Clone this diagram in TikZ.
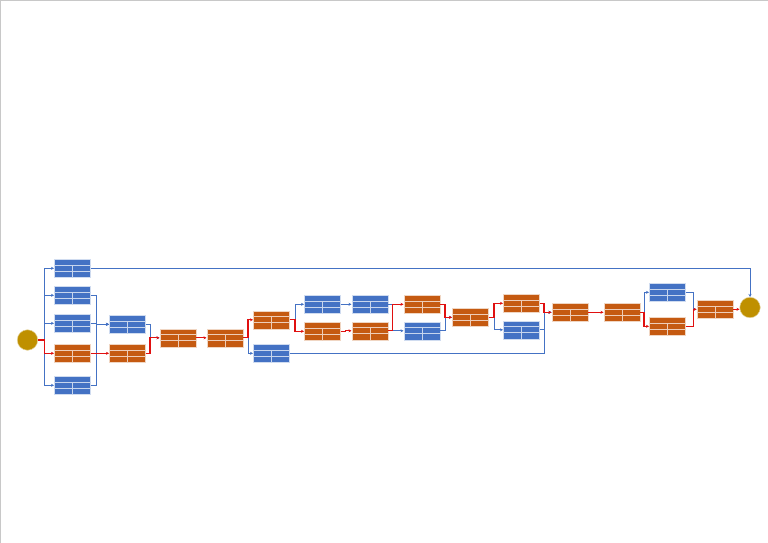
\documentclass[tikz,border=0pt]{standalone}
\usetikzlibrary{arrows.meta,calc}
\definecolor{bxblue}{HTML}{4472C4}
\definecolor{bxorange}{HTML}{C55A11}
\definecolor{gold}{HTML}{BF9000}
\definecolor{lnred}{HTML}{E01010}
\definecolor{frame}{HTML}{C8C8C8}
\tikzset{
  tbox/.style={draw=white!75!#1, fill=#1, line width=0.6pt, minimum width=36pt, minimum height=18pt, inner sep=0pt, anchor=north west},
  cell/.style={draw=white!70!#1, line width=0.45pt},
  bl/.style={draw=bxblue, line width=1pt, -{Stealth[length=3pt,width=3pt]}},
  rd/.style={draw=lnred, line width=1.15pt, -{Stealth[length=3pt,width=3pt]}},
  evt/.style={circle, fill=gold, draw=white!60!gold, line width=0.5pt, minimum size=20.5pt, inner sep=0pt}
}
\newcommand\tbox[4]{%
  \node[tbox=#4] (#1) at (#2,#3) {};
  \draw[cell=#4] ([yshift=-6pt]#1.north west) -- ([yshift=-6pt]#1.north east);
  \draw[cell=#4] ([yshift=-12pt]#1.north west) -- ([yshift=-12pt]#1.north east);
  \draw[cell=#4] ([yshift=-6pt]#1.north) -- (#1.south);
}
\newcommand\conn[4]{% style, src, tgt, offset
  \draw[#1] (#2.east) -- ([xshift=-#4pt]#3.west |- #2.east) |- (#3.west);
}
\begin{document}
\begin{tikzpicture}[x=1pt,y=-1pt]
\useasboundingbox (0,0) rectangle (768,543);
\fill[white] (0,0) rectangle (768,543);
\draw[frame, line width=1.2pt] (0.6,543) -- (0.6,0.6) -- (768,0.6);

\node[evt] (st) at (27.5,340) {};
\node[evt] (en) at (750,307.5) {};

\tbox{b1}{54}{259}{bxblue}
\tbox{b2}{54}{286}{bxblue}
\tbox{b3}{54}{314}{bxblue}
\tbox{b4}{54}{344}{bxorange}
\tbox{b5}{54}{376}{bxblue}
\tbox{c}{109}{315}{bxblue}
\tbox{d}{109}{344}{bxorange}
\tbox{e}{159.5}{328.5}{bxorange}
\tbox{f}{206.5}{328.5}{bxorange}
\tbox{g}{253}{310.5}{bxorange}
\tbox{h}{253}{344}{bxblue}
\tbox{i}{304}{295}{bxblue}
\tbox{j}{304}{322}{bxorange}
\tbox{k}{351.5}{295}{bxblue}
\tbox{l}{351.5}{321.5}{bxorange}
\tbox{o}{403.5}{295}{bxorange}
\tbox{p}{403.5}{321.5}{bxblue}
\tbox{r}{452}{308}{bxorange}
\tbox{m}{503}{294}{bxorange}
\tbox{n}{503}{320.5}{bxblue}
\tbox{q}{551.5}{303}{bxorange}
\tbox{s}{603.5}{303}{bxorange}
\tbox{t}{649}{283}{bxblue}
\tbox{u}{649}{317}{bxorange}
\tbox{v}{696.5}{300}{bxorange}

% blue (non-critical) connectors
\conn{bl}{st}{b1}{9.7}
\conn{bl}{st}{b2}{9.7}
\conn{bl}{st}{b3}{9.7}
\conn{bl}{st}{b5}{9.7}
\draw[bl] (b1.east) -| (en.north);
\conn{bl}{b2}{c}{13}
\conn{bl}{b3}{c}{13}
\conn{bl}{b5}{c}{13}
\conn{bl}{c}{e}{9.5}
\conn{bl}{f}{h}{5}
\conn{bl}{g}{i}{9}
\conn{bl}{i}{k}{6}
\conn{bl}{k}{p}{11}
\conn{bl}{p}{r}{7}
\conn{bl}{r}{n}{9}
\conn{bl}{n}{q}{7.5}
\conn{bl}{h}{q}{7.5}
\conn{bl}{s}{t}{5}
\conn{bl}{t}{v}{3.2}

% red (critical) connectors
\conn{rd}{st}{b4}{9.7}
\conn{rd}{b4}{d}{6}
\conn{rd}{d}{e}{9.5}
\conn{rd}{e}{f}{5}
\conn{rd}{f}{g}{5}
\conn{rd}{g}{j}{9}
\conn{rd}{j}{l}{6}
\conn{rd}{l}{o}{11}
\conn{rd}{o}{r}{7}
\conn{rd}{r}{m}{9}
\conn{rd}{m}{q}{7.5}
\conn{rd}{q}{s}{6}
\conn{rd}{s}{u}{5}
\conn{rd}{u}{v}{3.2}
\draw[rd] (v.east) -- (en.west |- v.east);
\end{tikzpicture}
\end{document}
